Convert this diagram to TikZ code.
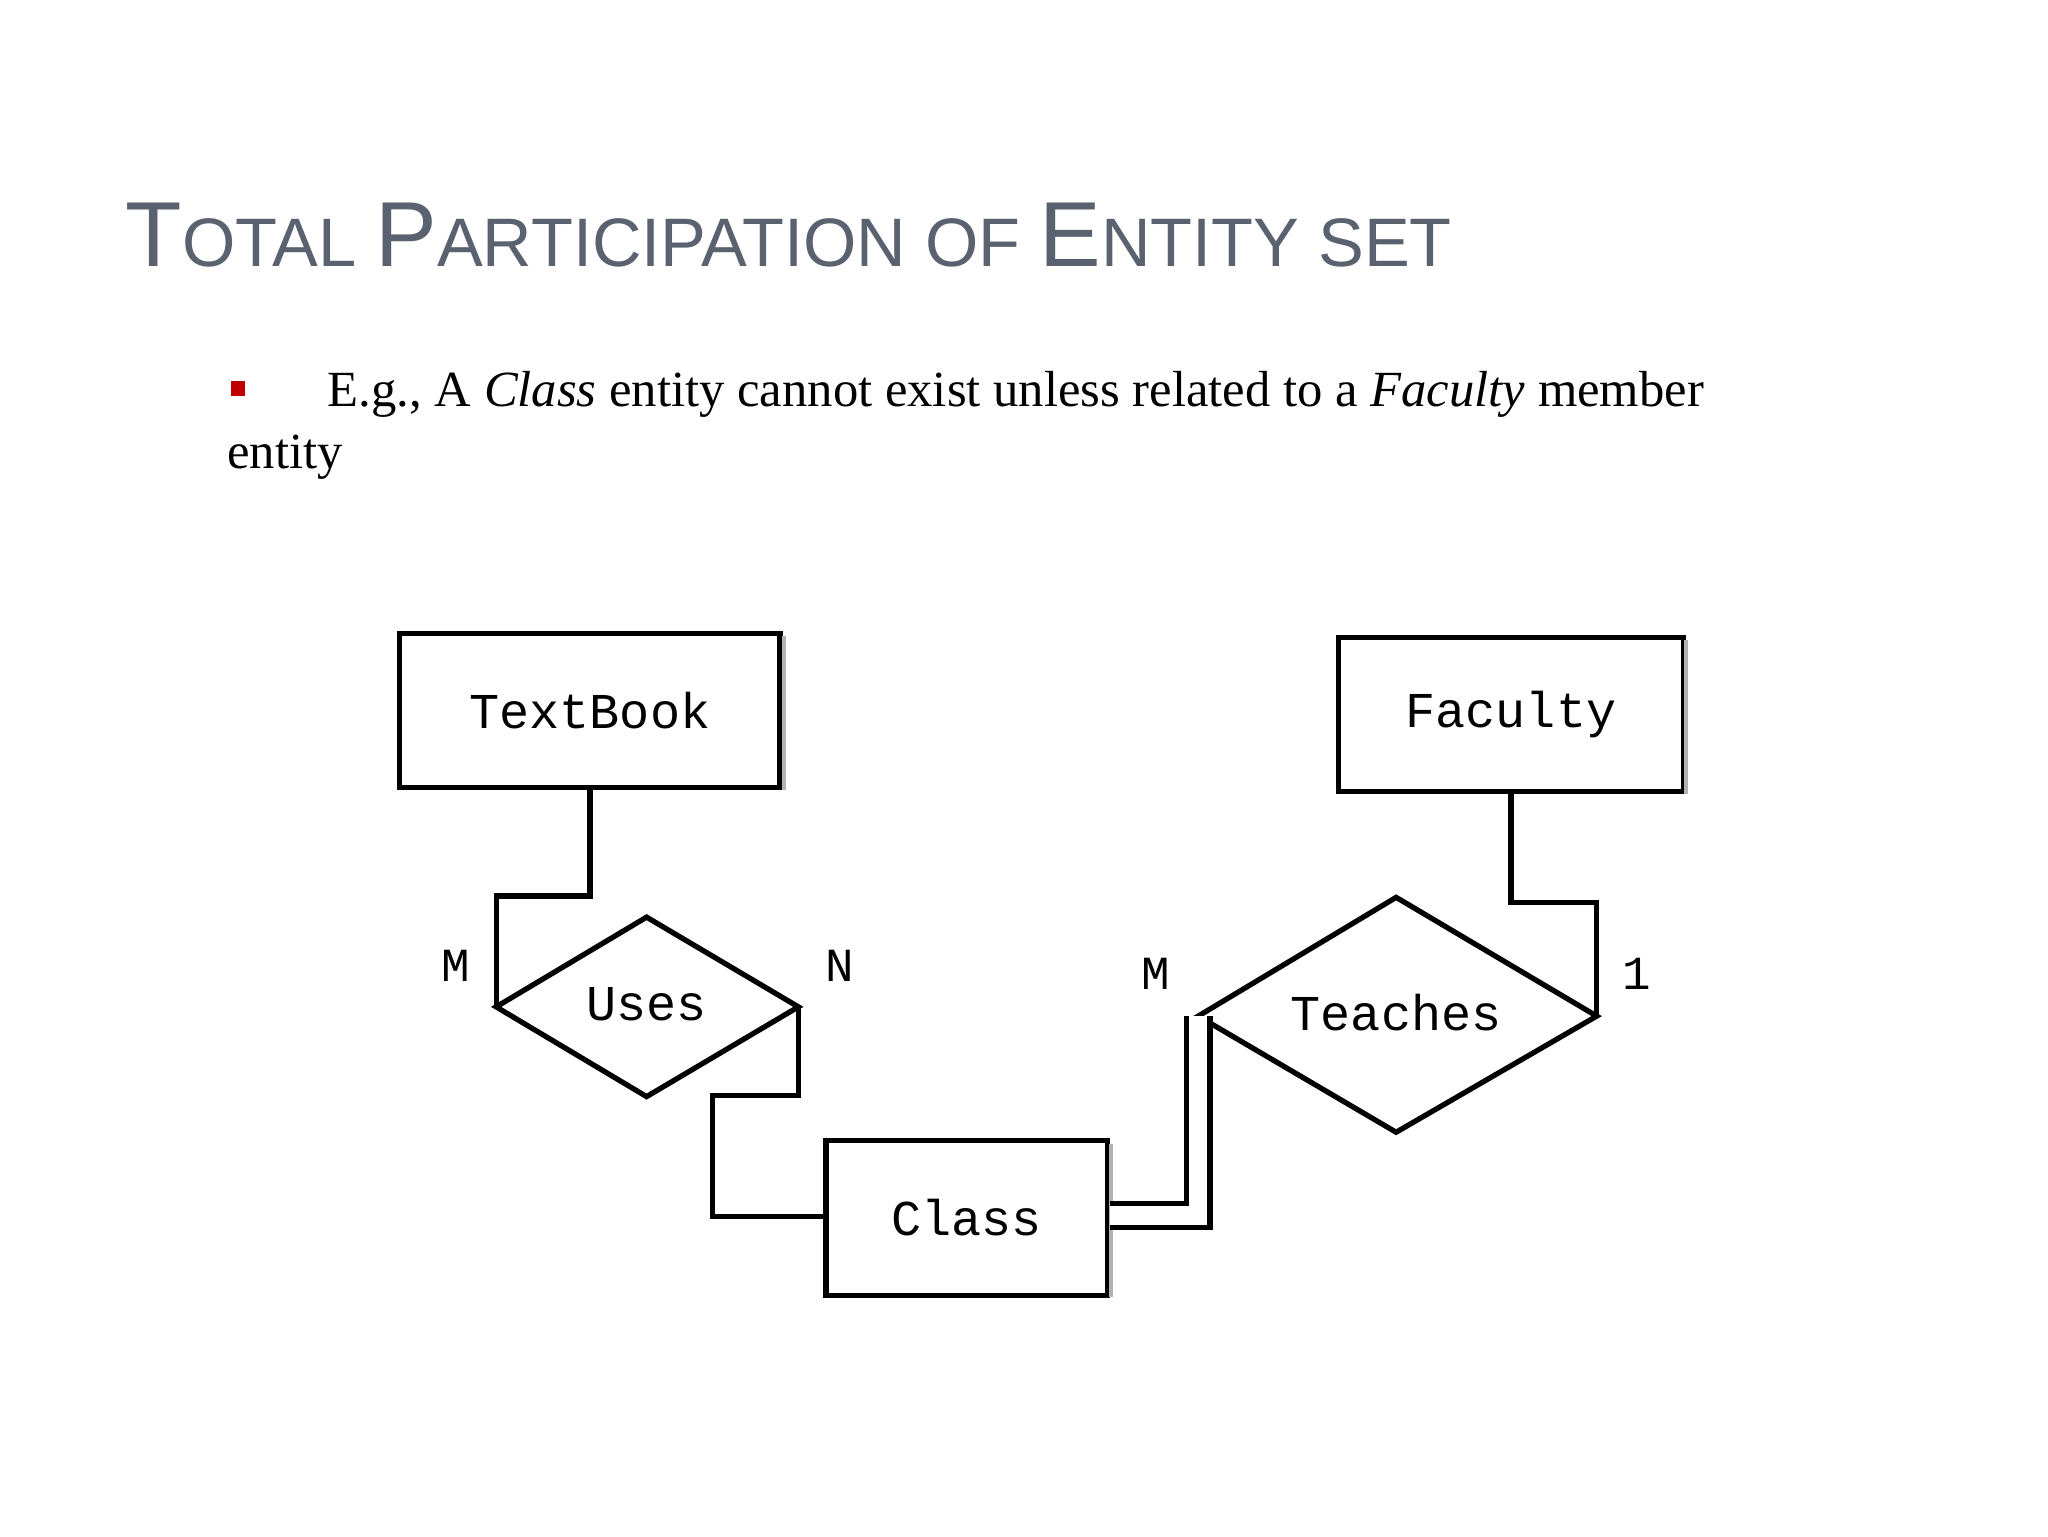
\documentclass[tikz,border=0pt]{standalone}
\usepackage{fontspec}
\setmainfont{Liberation Serif}
\setsansfont{Liberation Sans}
\setmonofont{Liberation Mono}
\definecolor{titlec}{HTML}{5A6270}
\definecolor{bul}{HTML}{C00000}
\begin{document}
\begin{tikzpicture}[x=0.5pt,y=-0.5pt,
  ent/.style={draw,line width=2pt,minimum width=#1,minimum height=58.5pt,inner sep=0pt,font=\ttfamily\fontsize{19}{19}\selectfont},
  lbl/.style={font=\ttfamily\fontsize{18}{18}\selectfont},
  ln/.style={line width=2pt}]
\fill[white] (0,0) rectangle (1552,1164);
\useasboundingbox (0,0) rectangle (1552,1164);
\node[anchor=base west,text=titlec,font=\sffamily,inner sep=0] (title) at (95,202)
 {\fontsize{35}{35}\selectfont T\fontsize{26}{26}\selectfont OTAL \fontsize{35}{35}\selectfont P\fontsize{26}{26}\selectfont ARTICIPATION OF \fontsize{35}{35}\selectfont E\fontsize{26}{26}\selectfont NTITY SET};
\fill[bul] (175,289) rectangle (186,300);
\node[anchor=base west,inner sep=0,font=\fontsize{19.2}{19.2}\selectfont] (l1) at (248,308) {E.g., A \textit{Class} entity cannot exist unless related to a \textit{Faculty} member};
\node[anchor=base west,inner sep=0,font=\fontsize{19.2}{19.2}\selectfont] (l2) at (172,355) {entity};
% entities
\node[ent=144pt] (tb) at (447,538.5) {TextBook};
\node[ent=130.5pt] (fac) at (1145,541.5) {Faculty};
\node[ent=106.5pt] (cls) at (732.5,923) {Class};
\draw[gray!60,line width=1.5pt] (594,482)--(594,599) (1278,485)--(1278,602) (842,867)--(842,983);
% diamonds
\coordinate (uL) at (376,763); \coordinate (uT) at (490,695); \coordinate (uR) at (605,763); \coordinate (uB) at (490,831);
\draw[ln] (uL)--(uT)--(uR)--(uB)--cycle;
\node[font=\ttfamily\fontsize{19}{19}\selectfont] (uses) at (490,761) {Uses};
\coordinate (tL) at (908,770); \coordinate (tT) at (1058,680); \coordinate (tR) at (1210,770); \coordinate (tB) at (1058,858);
\draw[ln] (tL)--(tT)--(tR)--(tB)--cycle;
\node[font=\ttfamily\fontsize{19}{19}\selectfont] (teaches) at (1058,767) {Teaches};
% connectors
\draw[ln] (tb.south) -- (447,679) -- (376,679) -- (uL);
\draw[ln] (uR) -- (605,830) -- (540,830) -- (540,922) -- (cls.west|-0,922);
\draw[line width=2pt,double=white,double distance=7pt] (cls.east|-0,921) -- (tL|-0,921) -- (tL);
\draw[ln] (fac.south) -- (1145,684) -- (1210,684) -- (tR);
% labels
\node[lbl] (m1) at (345,732) {M};
\node[lbl] (n1) at (636,732) {N};
\node[lbl] (m2) at (876,738) {M};
\node[lbl] (o1) at (1240,738) {1};
\end{tikzpicture}
\end{document}
